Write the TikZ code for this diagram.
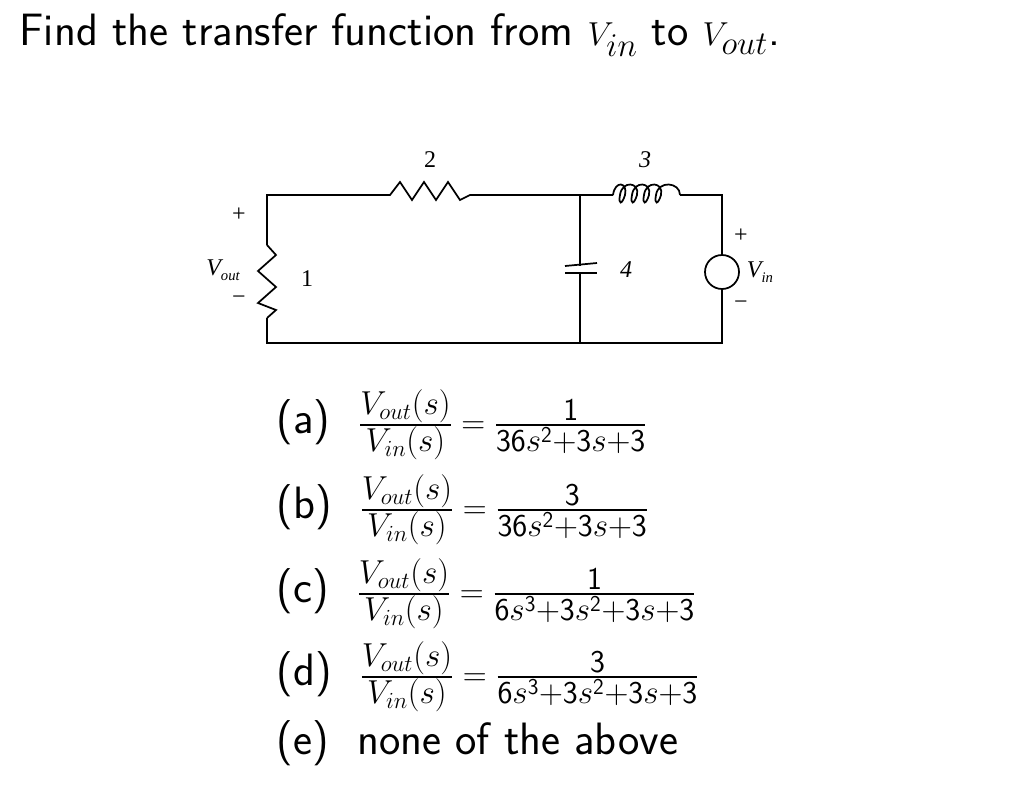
\documentclass[tikz,border=0pt]{standalone}
\usepackage{amsmath}
\usepackage{fontspec}
\newfontfamily\tms{Liberation Serif}
\tikzset{wire/.style={line width=1.3pt},
 lab/.style={font=\tms\fontsize{18}{20}\selectfont\itshape},
 labr/.style={font=\tms\fontsize{18}{20}\selectfont},
 ans/.style={anchor=west,font=\sffamily\fontsize{34}{40}\selectfont}}
\newcommand{\sn}[1]{\mathsf{#1}}
\begin{document}
\begin{tikzpicture}[x=0.75pt,y=-0.75pt]
\useasboundingbox (0,0) rectangle (1024,803);
\node[anchor=west,font=\sffamily\fontsize{34}{40}\selectfont] (title) at (15,35) {Find the transfer function from $V_{in}$ to $V_{out}$.};
% circuit
\coordinate (tl) at (267,195); \coordinate (bl) at (267,343);
\coordinate (tc) at (580,195); \coordinate (bc) at (580,343);
\coordinate (tr) at (722,195); \coordinate (br) at (722,343);
\draw[wire] (267,245) -- (tl) -- (390,195) -- (400,182) -- (412,200) -- (424,182) -- (436,200) -- (448,182) -- (460,200) -- (470,195) -- (tc) -- (613,195);
\draw[wire] (613,195) .. controls (615,180) and (628,182) .. (625,195) .. controls (622,205) and (618,205) ..(620,195) .. controls (622,180) and (640,182) .. (637,195) .. controls (634,205) and (630,205) .. (632,195) .. controls (634,180) and (652,182) .. (649,195) .. controls (646,205) and (642,205) .. (644,195) .. controls (646,180) and (664,182) .. (661,195) .. controls (658,205) and (654,205) .. (656,195) .. controls (658,180) and (680,182) .. (680,195);
\draw[wire] (680,195) -- (tr) -- (722,255);
\node[draw,wire,circle,minimum size=34pt*0.75,inner sep=0pt] (src) at (722,272) {};
\draw[wire] (src.south) -- (br) -- (bc) -- (bl) -- (267,318);
\draw[wire] (267,245) -- (276,255) -- (258,271) -- (276,287) -- (258,303) -- (276,310) -- (267,318);
\draw[wire] (tc) -- (580,266); \draw[wire] (565,266) -- (597,263); \draw[wire] (565,273) -- (597,273); \draw[wire] (580,273) -- (bc);
\node[labr] (l2) at (430,160) {2};
\node[lab] (l3) at (645,160) {3};
\node[lab] (l4) at (626,270) {4};
\node[labr] (l1) at (307,279) {1};
\node[labr] (pl) at (239,215) {+};
\node[labr] (mi) at (239,300) {\char"2212};
\node[lab] (vo) at (223,270) {V\raisebox{-0.5ex}{\fontsize{11}{12}\selectfont out}};
\node[labr] (pr) at (741,236) {+};
\node[labr] (mr) at (741,305) {\char"2212};
\node[lab] (vi) at (760,272) {V\raisebox{-0.5ex}{\fontsize{11}{12}\selectfont in}};
% answers
\node[ans] (a) at (272,425) {(a)\ \ $\frac{V_{out}(s)}{V_{in}(s)}=\frac{\sn1}{\sn{36}s^{\sn2}\sn+\sn3s\sn+\sn3}$};
\node[ans] (b) at (272,510) {(b)\ \ $\frac{V_{out}(s)}{V_{in}(s)}=\frac{\sn3}{\sn{36}s^{\sn2}\sn+\sn3s\sn+\sn3}$};
\node[ans] (c) at (272,594) {(c)\ \ $\frac{V_{out}(s)}{V_{in}(s)}=\frac{\sn1}{\sn6s^{\sn3}\sn+\sn3s^{\sn2}\sn+\sn3s\sn+\sn3}$};
\node[ans] (d) at (272,677) {(d)\ \ $\frac{V_{out}(s)}{V_{in}(s)}=\frac{\sn3}{\sn6s^{\sn3}\sn+\sn3s^{\sn2}\sn+\sn3s\sn+\sn3}$};
\node[ans] (e) at (272,743) {(e)\ \ none of the above};
\end{tikzpicture}
\end{document}
